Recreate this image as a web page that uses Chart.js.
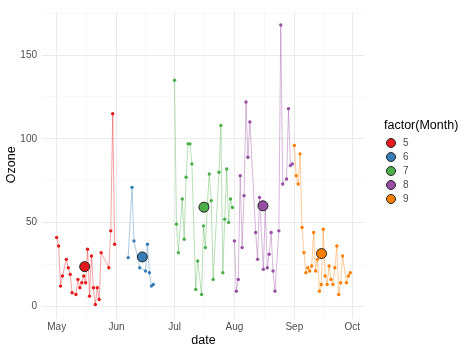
<!DOCTYPE html>
<html>
<head>
<meta charset="utf-8">
<script src="https://cdn.jsdelivr.net/npm/chart.js@4"></script>
<style>
  body { margin: 0; background: #fff; }
  canvas { display: block; }
</style>
</head>
<body>
<canvas id="chart" width="474" height="353"></canvas>
<script>
// Ozone por día (null = sin dato), mayo a septiembre
const mayo = [41, 36, 12, 18, null, 28, 23, 19, 8, null, 7, 16, 11, 14, 18, 14, 34, 6, 30, 11, 1, 11, 4, 32, null, null, null, 23, 45, 115, 37];
const junio = [null, null, null, null, null, null, 29, null, 71, 39, null, null, 23, null, null, 21, 37, 20, 12, 13, null, null, null, null, null, null, null, null, null, null];
const julio = [135, 49, 32, null, 64, 40, 77, 97, 97, 85, null, 10, 27, null, 7, 48, 35, 61, 79, 63, 16, null, null, 80, 108, 20, 52, 82, 50, 64, 59];
const agosto = [39, 9, 16, 78, 35, 66, 122, 89, 110, null, null, 44, 28, 65, null, 22, 59, 23, 31, 44, 21, 9, null, 45, 168, 73, null, 76, 118, 84, 85];
const septiembre = [96, 78, 73, 91, 47, 32, 20, 23, 21, 24, 44, 21, 28, 9, 13, 46, 18, 13, 24, 16, 13, 23, 36, 7, 14, 30, null, 14, 18, 20];

const meses = ["5", "6", "7", "8", "9"];
const inicioMes = [0, 31, 61, 92, 123]; // días desde el 1 de mayo
const promedios = [23.62, 29.44, 59.12, 59.96, 31.45];
const diaPromedio = [14.5, 44.33, 76.23, 106.77, 137.1];

const xTicks = [0, 31, 61, 92, 123, 153];
const xLabels = ["May", "Jun", "Jul", "Aug", "Sep", "Oct"];
const yTicks = [0, 50, 100, 150];

const colores = ["#E41A1C", "#377EB8", "#4DAF4A", "#984EA3", "#FF7F00"];
const coloresLinea = ["rgba(228,26,28,0.4)", "rgba(55,126,184,0.4)", "rgba(77,175,74,0.4)", "rgba(152,78,163,0.4)", "rgba(255,127,0,0.4)"];

const series = [mayo, junio, julio, agosto, septiembre];
const FUENTE = "'Liberation Sans', Arial, sans-serif";

const datasets = [];
series.forEach((valores, i) => {
  const puntos = [];
  valores.forEach((v, d) => {
    if (v !== null) puntos.push({ x: inicioMes[i] + d, y: v });
  });
  datasets.push({
    type: "line",
    data: puntos,
    borderColor: coloresLinea[i],
    borderWidth: 1,
    pointRadius: 1.7,
    pointBackgroundColor: colores[i],
    pointBorderWidth: 0,
    tension: 0,
    order: 2,
  });
});
meses.forEach((m, i) => {
  datasets.push({
    type: "scatter",
    data: [{ x: diaPromedio[i], y: promedios[i] }],
    pointRadius: 5,
    pointBackgroundColor: colores[i],
    pointBorderColor: "#222",
    pointBorderWidth: 1,
    order: 0,
  });
});

// cortes menores a mitad de camino entre los mayores
const xMinor = xTicks.slice(1).map((v, i) => (v + xTicks[i]) / 2);
const yMinor = [25, 75, 125, 175];

const textos = {
  id: "textos",
  afterDraw(chart) {
    const ctx = chart.ctx;
    const area = chart.chartArea;
    ctx.save();
    ctx.fillStyle = "#000";
    ctx.font = "12.5px " + FUENTE;
    ctx.textAlign = "center";
    ctx.textBaseline = "middle";
    ctx.fillText("date", (area.left + area.right) / 2, 341);
    ctx.translate(12, (area.top + area.bottom) / 2);
    ctx.rotate(-Math.PI / 2);
    ctx.fillText("Ozone", 0, 0);
    ctx.restore();

    ctx.save();
    ctx.font = "12.5px " + FUENTE;
    ctx.fillStyle = "#000";
    ctx.textAlign = "left";
    ctx.textBaseline = "middle";
    ctx.fillText("factor(Month)", 384, 126);
    ctx.font = "10px " + FUENTE;
    meses.forEach((m, i) => {
      const y = 143 + i * 14;
      ctx.beginPath();
      ctx.arc(391, y, 4.5, 0, Math.PI * 2);
      ctx.fillStyle = colores[i];
      ctx.fill();
      ctx.strokeStyle = "#222";
      ctx.lineWidth = 1;
      ctx.stroke();
      ctx.fillStyle = "#4D4D4D";
      ctx.fillText(m, 403, y);
    });
    ctx.restore();
  },
};

new Chart(document.getElementById("chart"), {
  data: { datasets },
  options: {
    responsive: false,
    animation: false,
    layout: { padding: { left: 0, top: 7, right: 109, bottom: 0 } },
    plugins: { legend: { display: false }, tooltip: { enabled: false } },
    scales: {
      x: {
        type: "linear",
        min: -7.6,
        max: 159.6,
        afterBuildTicks: (s) => {
          s.ticks = xTicks.concat(xMinor).map((v) => ({ value: v }));
        },
        afterFit: (s) => { s.height = 34.5; },
        ticks: {
          autoSkip: false,
          maxRotation: 0,
          padding: 3,
          color: "#4D4D4D",
          font: { family: FUENTE, size: 10 },
          callback: (v) => {
            const k = xTicks.indexOf(v);
            return k >= 0 ? xLabels[k] : "";
          },
        },
        grid: {
          drawTicks: false,
          color: (c) => (xTicks.includes(c.tick.value) ? "#EBEBEB" : "#F4F4F4"),
          lineWidth: (c) => (xTicks.includes(c.tick.value) ? 1 : 0.6),
        },
        border: { display: false },
      },
      y: {
        min: -7.35,
        max: 176.35,
        afterBuildTicks: (s) => {
          s.ticks = yTicks.concat(yMinor).map((v) => ({ value: v }));
        },
        afterFit: (s) => { s.width = 42; },
        ticks: {
          autoSkip: false,
          padding: 5,
          color: "#4D4D4D",
          font: { family: FUENTE, size: 10 },
          callback: (v) => (yTicks.includes(v) ? String(v) : ""),
        },
        grid: {
          drawTicks: false,
          color: (c) => (yTicks.includes(c.tick.value) ? "#EBEBEB" : "#F4F4F4"),
          lineWidth: (c) => (yTicks.includes(c.tick.value) ? 1 : 0.6),
        },
        border: { display: false },
      },
    },
  },
  plugins: [textos],
});
</script>
</body>
</html>
